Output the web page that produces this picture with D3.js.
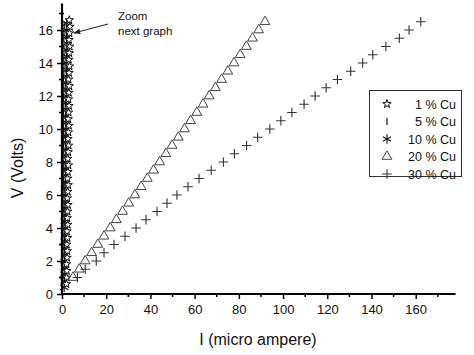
<!DOCTYPE html>
<html>
<head>
<meta charset="utf-8">
<script src="https://cdn.jsdelivr.net/npm/d3@7"></script>
<style>
  body { margin: 0; background: #fff; }
  text { font-family: "Liberation Sans", Arial, sans-serif; fill: #111; }
</style>
</head>
<body>
<svg id="chart" width="474" height="355"></svg>
<script>
// Data (V in volts, I in micro ampere)
const seriesNames = ["1 % Cu", "5 % Cu", "10 % Cu", "20 % Cu", "30 % Cu"];
const xTicks = [0, 20, 40, 60, 80, 100, 120, 140, 160];
const yTicks = [0, 2, 4, 6, 8, 10, 12, 14, 16];

const v1 = [0.6,1.0,1.4,1.8,2.2,2.6,3.0,3.4,3.8,4.2,4.6,5.0,5.4,5.8,6.2,6.6,7.0,7.4,7.8,8.2,8.6,9.0,9.4,9.8,10.2,10.6,11.0,11.4,11.8,12.2,12.6,13.0,13.4,13.8,14.2,14.6,15.0,15.4,15.8,16.2,16.6];
const i1 = [2.0,2.1,2.2,2.0,2.3,2.4,2.2,2.5,2.3,2.6,2.4,2.5,2.7,2.4,2.6,2.8,2.5,2.7,2.9,2.6,2.8,3.0,2.7,2.9,3.1,2.8,3.0,3.2,2.9,3.1,3.3,3.0,3.2,3.4,3.1,3.3,3.5,3.2,3.4,3.6,3.3];
const v5 = [0.3,0.7,1.1,1.5,1.9,2.3,2.7,3.1,3.5,3.9,4.3,4.7,5.1,5.5,5.9,6.3,6.7,7.1,7.5,7.9,8.3,8.7,9.1,9.5,9.9,10.3,10.7,11.1,11.5,11.9,12.3,12.7,13.1,13.5,13.9,14.3,14.7,15.1,15.5,15.9,16.3];
const i5 = [0.2,0.2,0.3,0.2,0.3,0.3,0.4,0.3,0.4,0.4,0.5,0.4,0.5,0.5,0.4,0.5,0.6,0.5,0.6,0.6,0.5,0.6,0.7,0.6,0.7,0.7,0.6,0.7,0.8,0.7,0.8,0.8,0.7,0.8,0.9,0.8,0.9,0.9,0.8,0.9,1.0];
const v10 = [0.4,0.8,1.2,1.6,2.0,2.4,2.8,3.2,3.6,4.0,4.4,4.8,5.2,5.6,6.0,6.4,6.8,7.2,7.6,8.0,8.4,8.8,9.2,9.6,10.0,10.4,10.8,11.2,11.6,12.0,12.4,12.8,13.2,13.6,14.0,14.4,14.8,15.2,15.6,16.0,16.4];
const i10 = [1.0,1.1,1.0,1.2,1.1,1.3,1.2,1.1,1.3,1.4,1.2,1.4,1.3,1.5,1.4,1.3,1.5,1.6,1.4,1.6,1.5,1.7,1.6,1.5,1.7,1.8,1.6,1.8,1.7,1.9,1.8,1.7,1.9,2.0,1.8,2.0,1.9,2.1,2.0,1.9,2.1];
const v20 = [1.0,1.5,2.0,2.5,3.0,3.5,4.0,4.5,5.0,5.5,6.0,6.5,7.0,7.5,8.0,8.5,9.0,9.5,10.0,10.5,11.0,11.5,12.0,12.5,13.0,13.5,14.0,14.5,15.0,15.5,16.0,16.5];
const i20 = [5.0,7.8,10.5,13.4,16.2,19.0,21.8,24.6,27.4,30.2,33.0,35.8,38.6,41.4,44.2,47.0,49.8,52.6,55.4,58.2,61.0,63.8,66.6,69.4,72.2,75.0,77.8,80.6,83.4,86.2,89.0,91.8];
const v30 = [1.0,1.5,2.0,2.5,3.0,3.5,4.0,4.5,5.0,5.5,6.0,6.5,7.0,7.5,8.0,8.5,9.0,9.5,10.0,10.5,11.0,11.5,12.0,12.5,13.0,13.5,14.0,14.5,15.0,15.5,16.0,16.5];
const i30 = [7.0,10.5,15.5,19.0,23.5,28.5,33.5,38.0,43.0,47.5,52.0,57.0,62.0,67.5,73.0,78.0,83.5,88.5,94.0,99.0,104.0,109.5,114.5,119.5,124.6,130.6,136.0,140.6,146.5,152.6,157.0,162.3];

const svg = d3.select("#chart");

// Scales
const x = d3.scaleLinear().domain([0, 178]).range([62, 455.5]);
const y = d3.scaleLinear().domain([0, 17.6]).range([294, 3.6]);

// Marker shapes
const symStar = d3.symbol().type(d3.symbolStar).size(22);
const symAst = d3.symbol().type(d3.symbolAsterisk).size(60);
const symTri = d3.symbol().type(d3.symbolTriangle2).size(68);
const symPlus = d3.symbol().type(d3.symbolPlus).size(32);
const markers = [
  g => g.append("path").attr("d", symStar()).attr("fill", "#fff").attr("stroke", "#111").attr("stroke-width", 1),
  g => g.append("line").attr("y1", -3.5).attr("y2", 3.5).attr("stroke", "#111").attr("stroke-width", 1.2),
  g => g.append("path").attr("d", symAst()).attr("fill", "none").attr("stroke", "#111").attr("stroke-width", 1.1),
  g => g.append("path").attr("d", symTri()).attr("fill", "none").attr("stroke", "#444").attr("stroke-width", 1),
  g => g.append("path").attr("d", symPlus()).attr("fill", "none").attr("stroke", "#333").attr("stroke-width", 1.1)
];

const series = [
  {v: v5, i: i5, m: 1},
  {v: v10, i: i10, m: 2},
  {v: v1, i: i1, m: 0},
  {v: v20, i: i20, m: 3},
  {v: v30, i: i30, m: 4}
];

series.forEach(s => {
  const pts = s.v.map((v, k) => ({v: v, i: s.i[k]}));
  svg.append("g").selectAll("g")
    .data(pts)
    .join("g")
    .attr("transform", d => `translate(${x(d.i)},${y(d.v)})`)
    .each(function() { markers[s.m](d3.select(this)); });
});

// X axis
const xAxis = svg.append("g").attr("transform", `translate(0,${y(0)})`);
xAxis.call(d3.axisBottom(x).tickValues(xTicks).tickSize(5).tickPadding(6))
  .call(g => g.select(".domain").remove());
xAxis.selectAll(".tick line").attr("stroke-width", 1.5);
xAxis.append("g").selectAll("line")
  .data(d3.range(10, 178, 20))
  .join("line")
  .attr("x1", d => x(d)).attr("x2", d => x(d))
  .attr("y1", 0).attr("y2", 3)
  .attr("stroke", "#000").attr("stroke-width", 1.5);
xAxis.append("line")
  .attr("x1", x(0) - 1).attr("x2", x(178))
  .attr("stroke", "#000").attr("stroke-width", 2.2);

// Y axis
const yAxis = svg.append("g").attr("transform", `translate(${x(0)},0)`);
yAxis.call(d3.axisLeft(y).tickValues(yTicks).tickSize(5).tickPadding(4))
  .call(g => g.select(".domain").remove());
yAxis.selectAll(".tick line").attr("stroke-width", 1.5).attr("x2", 2).attr("x1", -5);
yAxis.append("g").selectAll("line")
  .data(d3.range(1, 17.6, 2))
  .join("line")
  .attr("y1", d => y(d)).attr("y2", d => y(d))
  .attr("x1", -3).attr("x2", 2)
  .attr("stroke", "#000").attr("stroke-width", 1.5);
yAxis.append("line")
  .attr("y1", y(0) + 1).attr("y2", y(17.6))
  .attr("stroke", "#000").attr("stroke-width", 2.2);

svg.selectAll(".tick text")
  .style("font-size", "13px")
  .style("font-family", "'Liberation Sans', Arial, sans-serif");

// Axis titles
svg.append("text")
  .attr("x", 258).attr("y", 345)
  .attr("text-anchor", "middle")
  .style("font-size", "16px")
  .text("I (micro ampere)");
svg.append("text")
  .attr("transform", "translate(23,168)rotate(-90)")
  .attr("text-anchor", "middle")
  .style("font-size", "16px")
  .text("V (Volts)");

// Annotation
svg.append("text").attr("x", 118).attr("y", 20).style("font-size", "11.5px").text("Zoom");
svg.append("text").attr("x", 118).attr("y", 35).style("font-size", "11.5px").text("next graph");
svg.append("defs").append("marker")
  .attr("id", "arr").attr("viewBox", "0 0 10 10")
  .attr("refX", 9).attr("refY", 5)
  .attr("markerWidth", 7).attr("markerHeight", 7)
  .attr("orient", "auto")
  .append("path").attr("d", "M0,1 L10,5 L0,9 z").attr("fill", "#222");
svg.append("line")
  .attr("x1", 108).attr("y1", 24).attr("x2", 74).attr("y2", 33)
  .attr("stroke", "#222").attr("stroke-width", 1)
  .attr("marker-end", "url(#arr)");

// Legend
const legend = svg.append("g");
legend.append("rect")
  .attr("x", 369.5).attr("y", 90.5).attr("width", 92).attr("height", 86)
  .attr("fill", "#fff").attr("stroke", "#333").attr("stroke-width", 1);
seriesNames.forEach((name, k) => {
  const ly = 104 + k * 17.5;
  const g = legend.append("g").attr("transform", `translate(387,${ly})`);
  markers[k](g);
  legend.append("text")
    .attr("x", 456).attr("y", ly + 4.5)
    .attr("text-anchor", "end")
    .style("font-size", "12.5px")
    .text(name);
});
</script>
</body>
</html>
